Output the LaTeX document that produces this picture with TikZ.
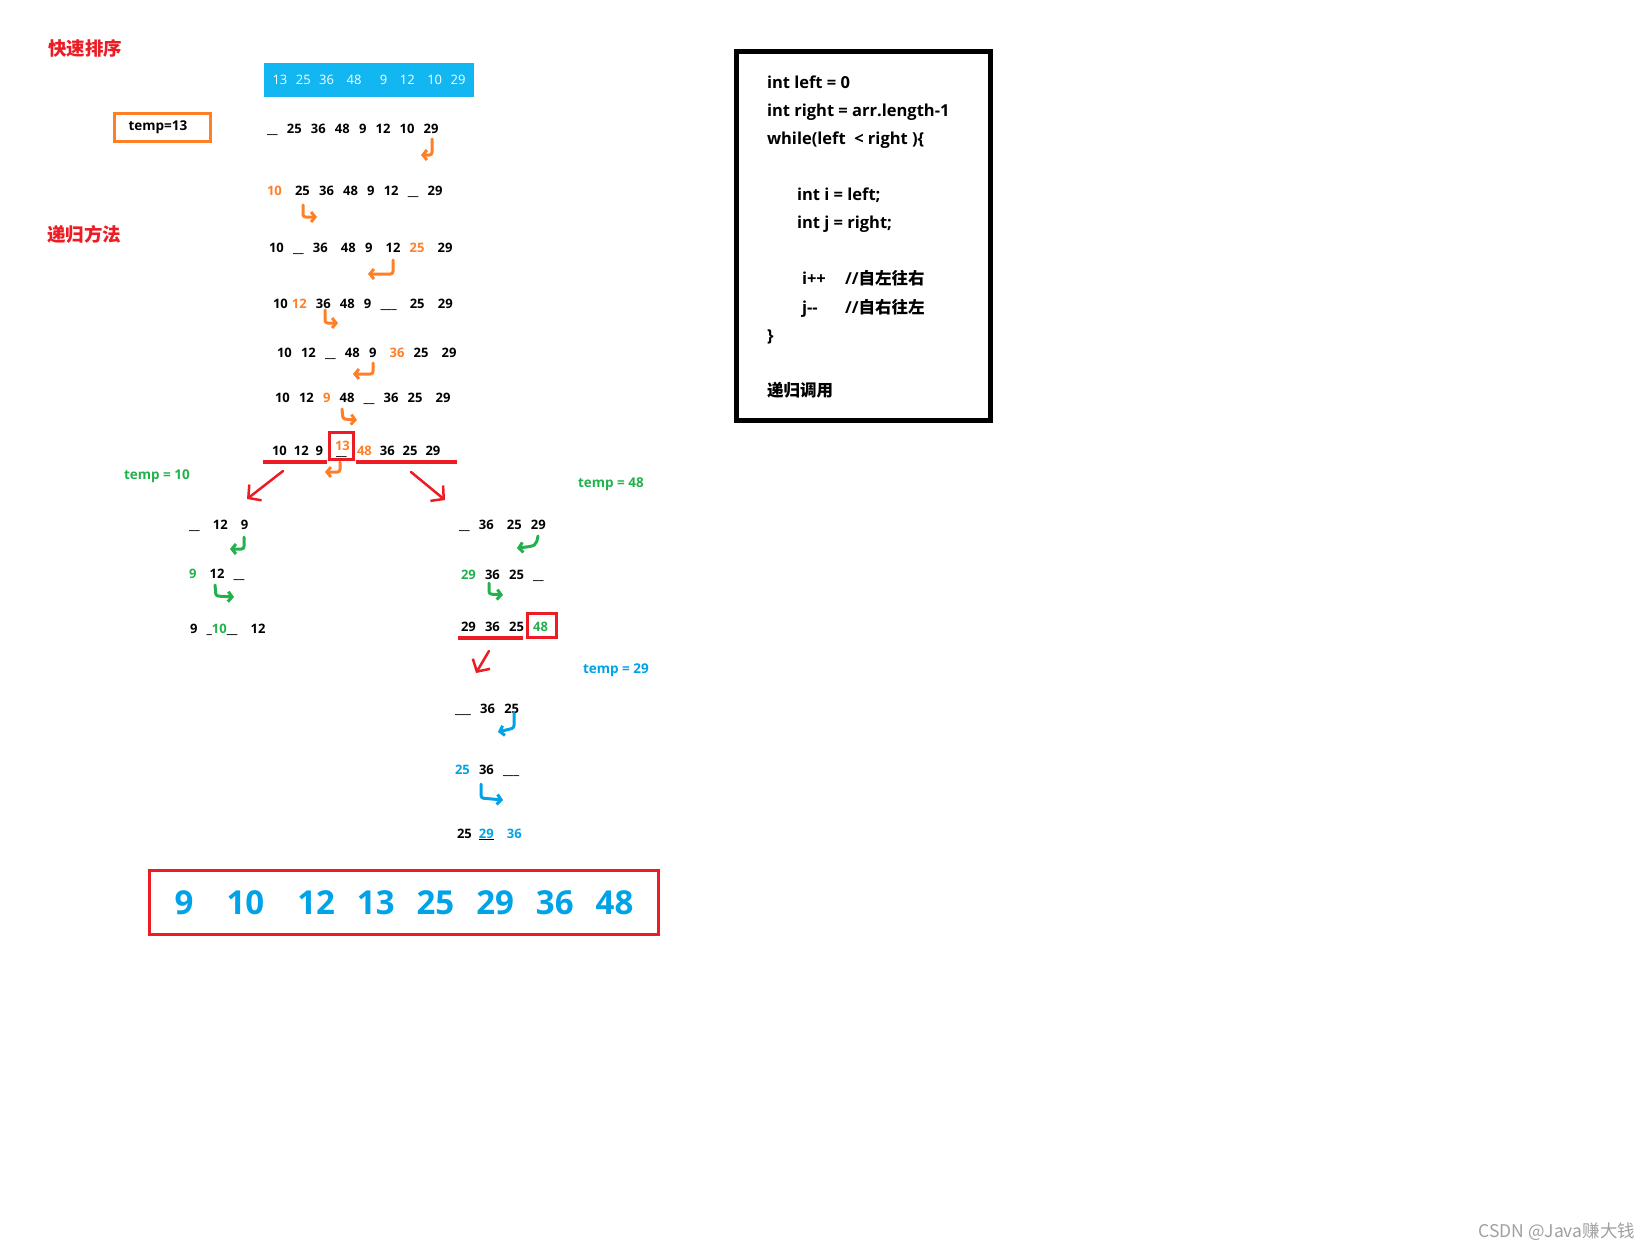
\documentclass[tikz,border=0pt]{standalone}
\usepackage{fontspec}
\setmainfont{Open Sans}
\newfontfamily\cjk{Noto Sans CJK SC}
\usetikzlibrary{arrows.meta}

\definecolor{qsred}{RGB}{237,28,36}
\definecolor{qsorange}{RGB}{255,127,39}
\definecolor{qsgreen}{RGB}{34,177,76}
\definecolor{qsblue}{RGB}{0,162,232}
\definecolor{qscyan}{RGB}{18,182,240}
\definecolor{qsgray}{RGB}{160,160,160}

\newcommand\orn[1]{\textcolor{qsorange}{#1}}
\newcommand\grn[1]{\textcolor{qsgreen}{#1}}
\newcommand\blu[1]{\textcolor{qsblue}{#1}}
\newcommand\xs{\hspace{4pt}}
\newcommand\rowfont{\fontsize{13pt}{15pt}\selectfont\bfseries\spaceskip=9.2pt\relax}
\newcommand\codefont{\fontsize{16.5pt}{28pt}\selectfont\bfseries}

\begin{document}
\begin{tikzpicture}[
		x=1pt, y=-1pt,
		every node/.style={inner sep=0pt, outer sep=0pt},
		row/.style={anchor=base west, font=\rowfont},
		title/.style={font=\cjk\bfseries\fontsize{18.5pt}{20pt}\selectfont, text=qsred},
		templabel/.style={anchor=base west, font=\fontsize{13.5pt}{15pt}\selectfont\bfseries},
		codeline/.style={anchor=base west, font=\codefont},
		hook/.style={line width=3pt, line cap=round, line join=round, rounded corners=2.5pt,
			-{Straight Barb[length=4pt,width=10pt]}},
		split/.style={qsred, line width=2.5pt, line cap=round,
			-{Straight Barb[length=9pt,width=20pt]}},
		redbox/.style={draw=qsred, line width=3pt},
		bar/.style={qsred, line width=4pt},
	]
	\useasboundingbox[fill=white] (0,0) rectangle (1650,1250);

	% titles
	\node[title] (quick) at (85,48) {快速排序};
	\node[title] (recur) at (84,234) {递归方法};
	\node[draw=qsorange, line width=3pt, minimum width=96pt, minimum height=28pt,
		inner xsep=14pt, text width=68pt, align=left,
		font=\fontsize{13.5pt}{15pt}\selectfont\bfseries] (temp13) at (162.5,127.5) {temp=13};

	% array
	\node[fill=qscyan, text=white, minimum width=210pt, minimum height=34pt,
		font={\fontsize{13pt}{15pt}\selectfont\spaceskip=8.5pt\relax}] (arr) at (369,80)
		{\raisebox{-2pt}{13 25 36\xs{} 48\hspace{10pt} 9\xs{} 12\xs{} 10 29}};

	% first pass
	\node[row] (row1) at (267,133) {\_\_ 25 36 48 9 12 10 29};
	\node[row] (row2) at (267,195) {\orn{10}\xs{} 25 36 48 9 12 \_\_ 29};
	\node[row] (row3) at (269,252) {10 \_\_ 36\xs{} 48 9\xs{} 12 \orn{25}\xs{} 29};
	\node[row] (row4) at (273,308) {10\hspace{4pt}\orn{12} 36 48 9 \_\_\_\xs{} 25\xs{} 29};
	\node[row] (row5) at (277,357) {10 12 \_\_ 48 9\xs{} \orn{36} 25\xs{} 29};
	\node[row] (row6) at (275,402) {10 12 \orn{9} 48 \_\_ 36 25\xs{} 29};
	\node[row] (row7a) at (272,455) {10\hspace{7pt}12\hspace{7pt}9};
	\node[row] (pivot) at (335,450)
		{\makebox[0pt][l]{\raisebox{-5pt}{\hspace{1pt}\_\_}}\orn{13}};
	\node[row] (row7b) at (357,455) {\orn{48}\hspace{8pt}36\hspace{8pt}25\hspace{8pt}29};

	\draw[hook, qsorange] (432,139) -- (432,155) -- (421,155);
	\draw[hook, qsorange] (303,205) -- (303,217) -- (317,217);
	\draw[hook, qsorange] (393,260) -- (393,274) -- (368,274);
	\draw[hook, qsorange] (325,310) -- (325,323) -- (338,323);
	\draw[hook, qsorange] (373,363) -- (373,374) -- (353,374);
	\draw[hook, qsorange] (342,409) -- (343,419) -- (357,420);
	\draw[hook, qsorange] (340,462) -- (340,472) -- (325,472);

	\draw[redbox] (329.5,432.5) rectangle (353.5,459.5);
	\draw[bar] (263,462) -- (327,462);
	\draw[bar] (356,462) -- (457,462);

	\coordinate (lsplit) at (283,471);
	\coordinate (lend) at (247,499);
	\coordinate (rsplit) at (411,472);
	\coordinate (rend) at (445,500);
	\draw[split] (lsplit) -- (lend);
	\draw[split] (rsplit) -- (rend);

	% left part
	\node[templabel, text=qsgreen] (temp10) at (124,479) {temp = 10};
	\node[row] (left1) at (189,529) {\_\_\xs{} 12\xs{} 9};
	\node[row] (left2) at (189,578) {\grn{9}\xs{} 12 \_\_};
	\node[row] (left3) at (190,633) {9 \_\grn{10}\_\_\xs{} 12};
	\draw[hook, qsgreen] (244,537) -- (244,549) -- (230,549);
	\draw[hook, qsgreen] (215,585) -- (216,596) -- (234,597);

	% right part
	\node[templabel, text=qsgreen] (temp48) at (578,487) {temp = 48};
	\node[row] (right1) at (459,529) {\_\_ 36\xs{} 25 29};
	\node[row] (right2) at (461,579) {\grn{29} 36 25 \_\_};
	\node[row] (right3) at (461,631) {29 36 25 \grn{48}};
	\draw[hook, qsgreen] (538,536) .. controls (536,546) .. (517,548);
	\draw[hook, qsgreen] (489,583) -- (489,594) -- (503,595);
	\draw[redbox] (527.5,613.5) rectangle (556.5,637.5);
	\draw[bar] (458,638) -- (523,638);
	\coordinate (dsplit) at (489,651);
	\coordinate (dend) at (476,673);
	\draw[split] (dsplit) -- (dend);

	% sub part
	\node[templabel, text=qsblue] (temp29) at (583,673) {temp = 29};
	\node[row] (sub1) at (455,713) {\_\_\_ 36 25};
	\node[row] (sub2) at (455,774) {\blu{25} 36 \_\_\_};
	\node[row] (sub3) at (457,838) {25\hspace{7pt}\underline{\blu{29}}\xs{} \blu{36}};
	\draw[hook, qsblue] (514,713) -- (514,728) -- (498,732);
	\draw[hook, qsblue] (481,784) -- (481,798) -- (503,800);

	% result
	\node[redbox, minimum width=509pt, minimum height=64pt, text=qsblue,
		font={\fontsize{33pt}{35pt}\selectfont\bfseries\spaceskip=22pt\relax}] (result) at (404,902.5)
		{9\hspace{11pt} 10\hspace{11pt} 12 13 25 29 36 48};

	% code
	\draw[line width=5pt] (736.5,51.5) rectangle (990.5,420.5);
	\node[codeline] (code1) at (767,88) {int left = 0};
	\node[codeline] (code2) at (767,116) {int right = arr.length-1};
	\node[codeline] (code3) at (767,144) {while(left~~< right )\{};
	\node[codeline] (code4) at (797,200) {int i = left;};
	\node[codeline] (code5) at (797,228) {int j = right;};
	\node[codeline] (code6) at (802,284) {\makebox[43pt][l]{i++}//{\cjk 自左往右}};
	\node[codeline] (code7) at (802,313) {\makebox[43pt][l]{j-{}-}//{\cjk 自右往左}};
	\node[codeline] (code8) at (767,341) {\}};
	\node[codeline] (code9) at (767,396) {\cjk 递归调用};

	\node[anchor=east, text=qsgray, font=\cjk\fontsize{17.5pt}{19pt}\selectfont] (csdn) at (1635,1232) {CSDN @Java赚大钱};
\end{tikzpicture}
\end{document}
